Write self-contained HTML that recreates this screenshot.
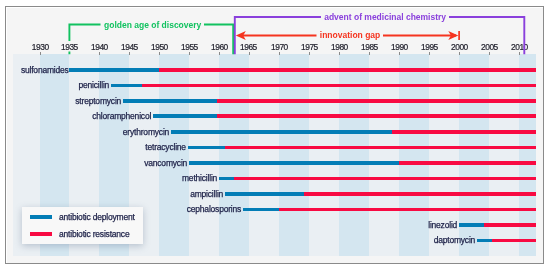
<!DOCTYPE html>
<html><head><meta charset="utf-8"><style>
*{margin:0;padding:0;box-sizing:border-box}
html,body{width:550px;height:270px;overflow:hidden;background:#fff}
body{position:relative;font-family:"Liberation Sans",Arial,sans-serif}
.a{position:absolute}
.frame{left:5px;top:6px;width:539px;height:258px;border:1px solid #8a8a8a;background:#f5f5f5;box-shadow:inset 1px 1px 0 #fff}
.st{position:absolute;top:54.3px;height:201.3px}
.l{background:#eaeff3}
.d{background:#d4e6f0}
.tk{position:absolute;top:51.5px;width:1px;height:3px;background:#8a8a8a}
.yr{position:absolute;top:43px;width:30px;margin-left:-15px;text-align:center;font-size:8.4px;letter-spacing:-0.45px;line-height:8px;color:#1e1e2a;-webkit-text-stroke:0.2px #1e1e2a}
.lb{position:absolute;font-size:8.5px;letter-spacing:-0.2px;line-height:8px;color:#1d2148;-webkit-text-stroke:0.25px #1d2148;text-align:right;white-space:nowrap}
.bar{position:absolute;height:3.8px}
.b{background:#037db6}
.r{background:#f80a42}
.hd{position:absolute;font-weight:bold;font-size:8.5px;line-height:9px;white-space:nowrap}
</style></head><body>
<div class="a frame"></div>

<div class="st l" style="left:13.20px;width:27.00px"></div>
<div class="st d" style="left:40.20px;width:29.20px"></div>
<div class="st l" style="left:69.40px;width:30.00px"></div>
<div class="st d" style="left:99.40px;width:30.00px"></div>
<div class="st l" style="left:129.40px;width:30.00px"></div>
<div class="st d" style="left:159.40px;width:30.00px"></div>
<div class="st l" style="left:189.40px;width:30.00px"></div>
<div class="st d" style="left:219.40px;width:30.00px"></div>
<div class="st l" style="left:249.40px;width:30.00px"></div>
<div class="st d" style="left:279.40px;width:30.00px"></div>
<div class="st l" style="left:309.40px;width:30.00px"></div>
<div class="st d" style="left:339.40px;width:30.00px"></div>
<div class="st l" style="left:369.40px;width:30.00px"></div>
<div class="st d" style="left:399.40px;width:30.00px"></div>
<div class="st l" style="left:429.40px;width:30.00px"></div>
<div class="st d" style="left:459.40px;width:30.00px"></div>
<div class="st l" style="left:489.40px;width:30.00px"></div>
<div class="st d" style="left:519.40px;width:16.20px"></div>
<div class="tk" style="left:39.70px"></div>
<div class="yr" style="left:40.20px">1930</div>
<div class="yr" style="left:69.40px">1935</div>
<div class="tk" style="left:98.90px"></div>
<div class="yr" style="left:99.40px">1940</div>
<div class="tk" style="left:128.90px"></div>
<div class="yr" style="left:129.40px">1945</div>
<div class="tk" style="left:158.90px"></div>
<div class="yr" style="left:159.40px">1950</div>
<div class="tk" style="left:188.90px"></div>
<div class="yr" style="left:189.40px">1955</div>
<div class="tk" style="left:218.90px"></div>
<div class="yr" style="left:219.40px">1960</div>
<div class="tk" style="left:248.90px"></div>
<div class="yr" style="left:248.40px">1965</div>
<div class="tk" style="left:278.90px"></div>
<div class="yr" style="left:279.40px">1970</div>
<div class="tk" style="left:308.90px"></div>
<div class="yr" style="left:309.40px">1975</div>
<div class="tk" style="left:338.90px"></div>
<div class="yr" style="left:339.40px">1980</div>
<div class="tk" style="left:368.90px"></div>
<div class="yr" style="left:369.40px">1985</div>
<div class="tk" style="left:398.90px"></div>
<div class="yr" style="left:399.40px">1990</div>
<div class="tk" style="left:428.90px"></div>
<div class="yr" style="left:429.40px">1995</div>
<div class="tk" style="left:458.90px"></div>
<div class="yr" style="left:459.40px">2000</div>
<div class="tk" style="left:488.90px"></div>
<div class="yr" style="left:489.40px">2005</div>
<div class="tk" style="left:518.90px"></div>
<div class="yr" style="left:519.40px">2010</div>
<div class="bar b" style="left:69.40px;top:68.10px;width:90.00px"></div>
<div class="bar r" style="left:159.40px;top:68.10px;width:376.20px"></div>
<div class="lb" style="right:481.40px;top:65.70px">sulfonamides</div>
<div class="bar b" style="left:111.40px;top:83.60px;width:30.60px"></div>
<div class="bar r" style="left:142.00px;top:83.60px;width:393.60px"></div>
<div class="lb" style="right:440.90px;top:81.20px">penicillin</div>
<div class="bar b" style="left:123.40px;top:99.00px;width:93.60px"></div>
<div class="bar r" style="left:217.00px;top:99.00px;width:318.60px"></div>
<div class="lb" style="right:428.90px;top:96.60px">streptomycin</div>
<div class="bar b" style="left:153.40px;top:114.30px;width:63.60px"></div>
<div class="bar r" style="left:217.00px;top:114.30px;width:318.60px"></div>
<div class="lb" style="right:398.90px;top:111.90px">chloramphenicol</div>
<div class="bar b" style="left:171.40px;top:130.10px;width:220.20px"></div>
<div class="bar r" style="left:391.60px;top:130.10px;width:144.00px"></div>
<div class="lb" style="right:380.90px;top:127.70px">erythromycin</div>
<div class="bar b" style="left:188.20px;top:145.50px;width:37.20px"></div>
<div class="bar r" style="left:225.40px;top:145.50px;width:310.20px"></div>
<div class="lb" style="right:364.10px;top:143.10px">tetracycline</div>
<div class="bar b" style="left:189.40px;top:161.10px;width:210.00px"></div>
<div class="bar r" style="left:399.40px;top:161.10px;width:136.20px"></div>
<div class="lb" style="right:362.90px;top:158.70px">vancomycin</div>
<div class="bar b" style="left:219.40px;top:176.60px;width:14.40px"></div>
<div class="bar r" style="left:233.80px;top:176.60px;width:301.80px"></div>
<div class="lb" style="right:332.90px;top:174.20px">methicillin</div>
<div class="bar b" style="left:225.40px;top:192.20px;width:78.60px"></div>
<div class="bar r" style="left:304.00px;top:192.20px;width:231.60px"></div>
<div class="lb" style="right:326.90px;top:189.80px">ampicillin</div>
<div class="bar b" style="left:243.40px;top:207.60px;width:36.00px"></div>
<div class="bar r" style="left:279.40px;top:207.60px;width:256.20px"></div>
<div class="lb" style="right:308.90px;top:205.20px">cephalosporins</div>
<div class="bar b" style="left:459.40px;top:223.10px;width:24.60px"></div>
<div class="bar r" style="left:484.00px;top:223.10px;width:51.60px"></div>
<div class="lb" style="right:92.90px;top:220.70px">linezolid</div>
<div class="bar b" style="left:477.40px;top:238.70px;width:14.40px"></div>
<div class="bar r" style="left:491.80px;top:238.70px;width:43.80px"></div>
<div class="lb" style="right:74.90px;top:236.30px">daptomycin</div>
<svg class="a" style="left:0;top:0" width="550" height="270" viewBox="0 0 550 270">
<path d="M69.4 41 V24.5 H100.5 M204 24.5 H233.2 V54.3 M69.4 51.5 V54.3" fill="none" stroke="#12c260" stroke-width="1.9"/>
<path d="M234.8 54.3 V17 H321 M449 17 H524.3 V54.3" fill="none" stroke="#8a40dc" stroke-width="1.9"/>
<path d="M240 35.5 H316.5 M383 35.5 H456" fill="none" stroke="#f5341f" stroke-width="1.8"/>
<path d="M235.8 35.5 L245.8 31.1 L243.2 35.5 L245.8 39.9 Z" fill="#f5341f"/>
<path d="M458.3 35.5 L448.3 31.1 L450.9 35.5 L448.3 39.9 Z" fill="#f5341f"/>
<path d="M459.1 30.9 V40.1" stroke="#f5341f" stroke-width="1.7"/>
</svg>
<div class="hd" style="left:104px;top:20.6px;color:#12c260">golden age of discovery</div>
<div class="hd" style="left:324.2px;top:12.9px;color:#8a40dc">advent of medicinal chemistry</div>
<div class="hd" style="left:319.8px;top:30.9px;color:#f5341f">innovation gap</div>
<div class="a" style="left:21.5px;top:207px;width:121px;height:36.5px;background:#f8f8f8;box-shadow:0 2px 7px rgba(80,100,130,.33)"></div>
<div class="a" style="left:29.5px;top:215px;width:22.4px;height:4px;background:#037db6"></div>
<div class="a" style="left:29.5px;top:231.7px;width:22.4px;height:4px;background:#f80a42"></div>
<div class="lb" style="left:59px;top:213.1px;text-align:left">antibiotic deployment</div>
<div class="lb" style="left:59px;top:229.7px;text-align:left">antibiotic resistance</div>
</body></html>
